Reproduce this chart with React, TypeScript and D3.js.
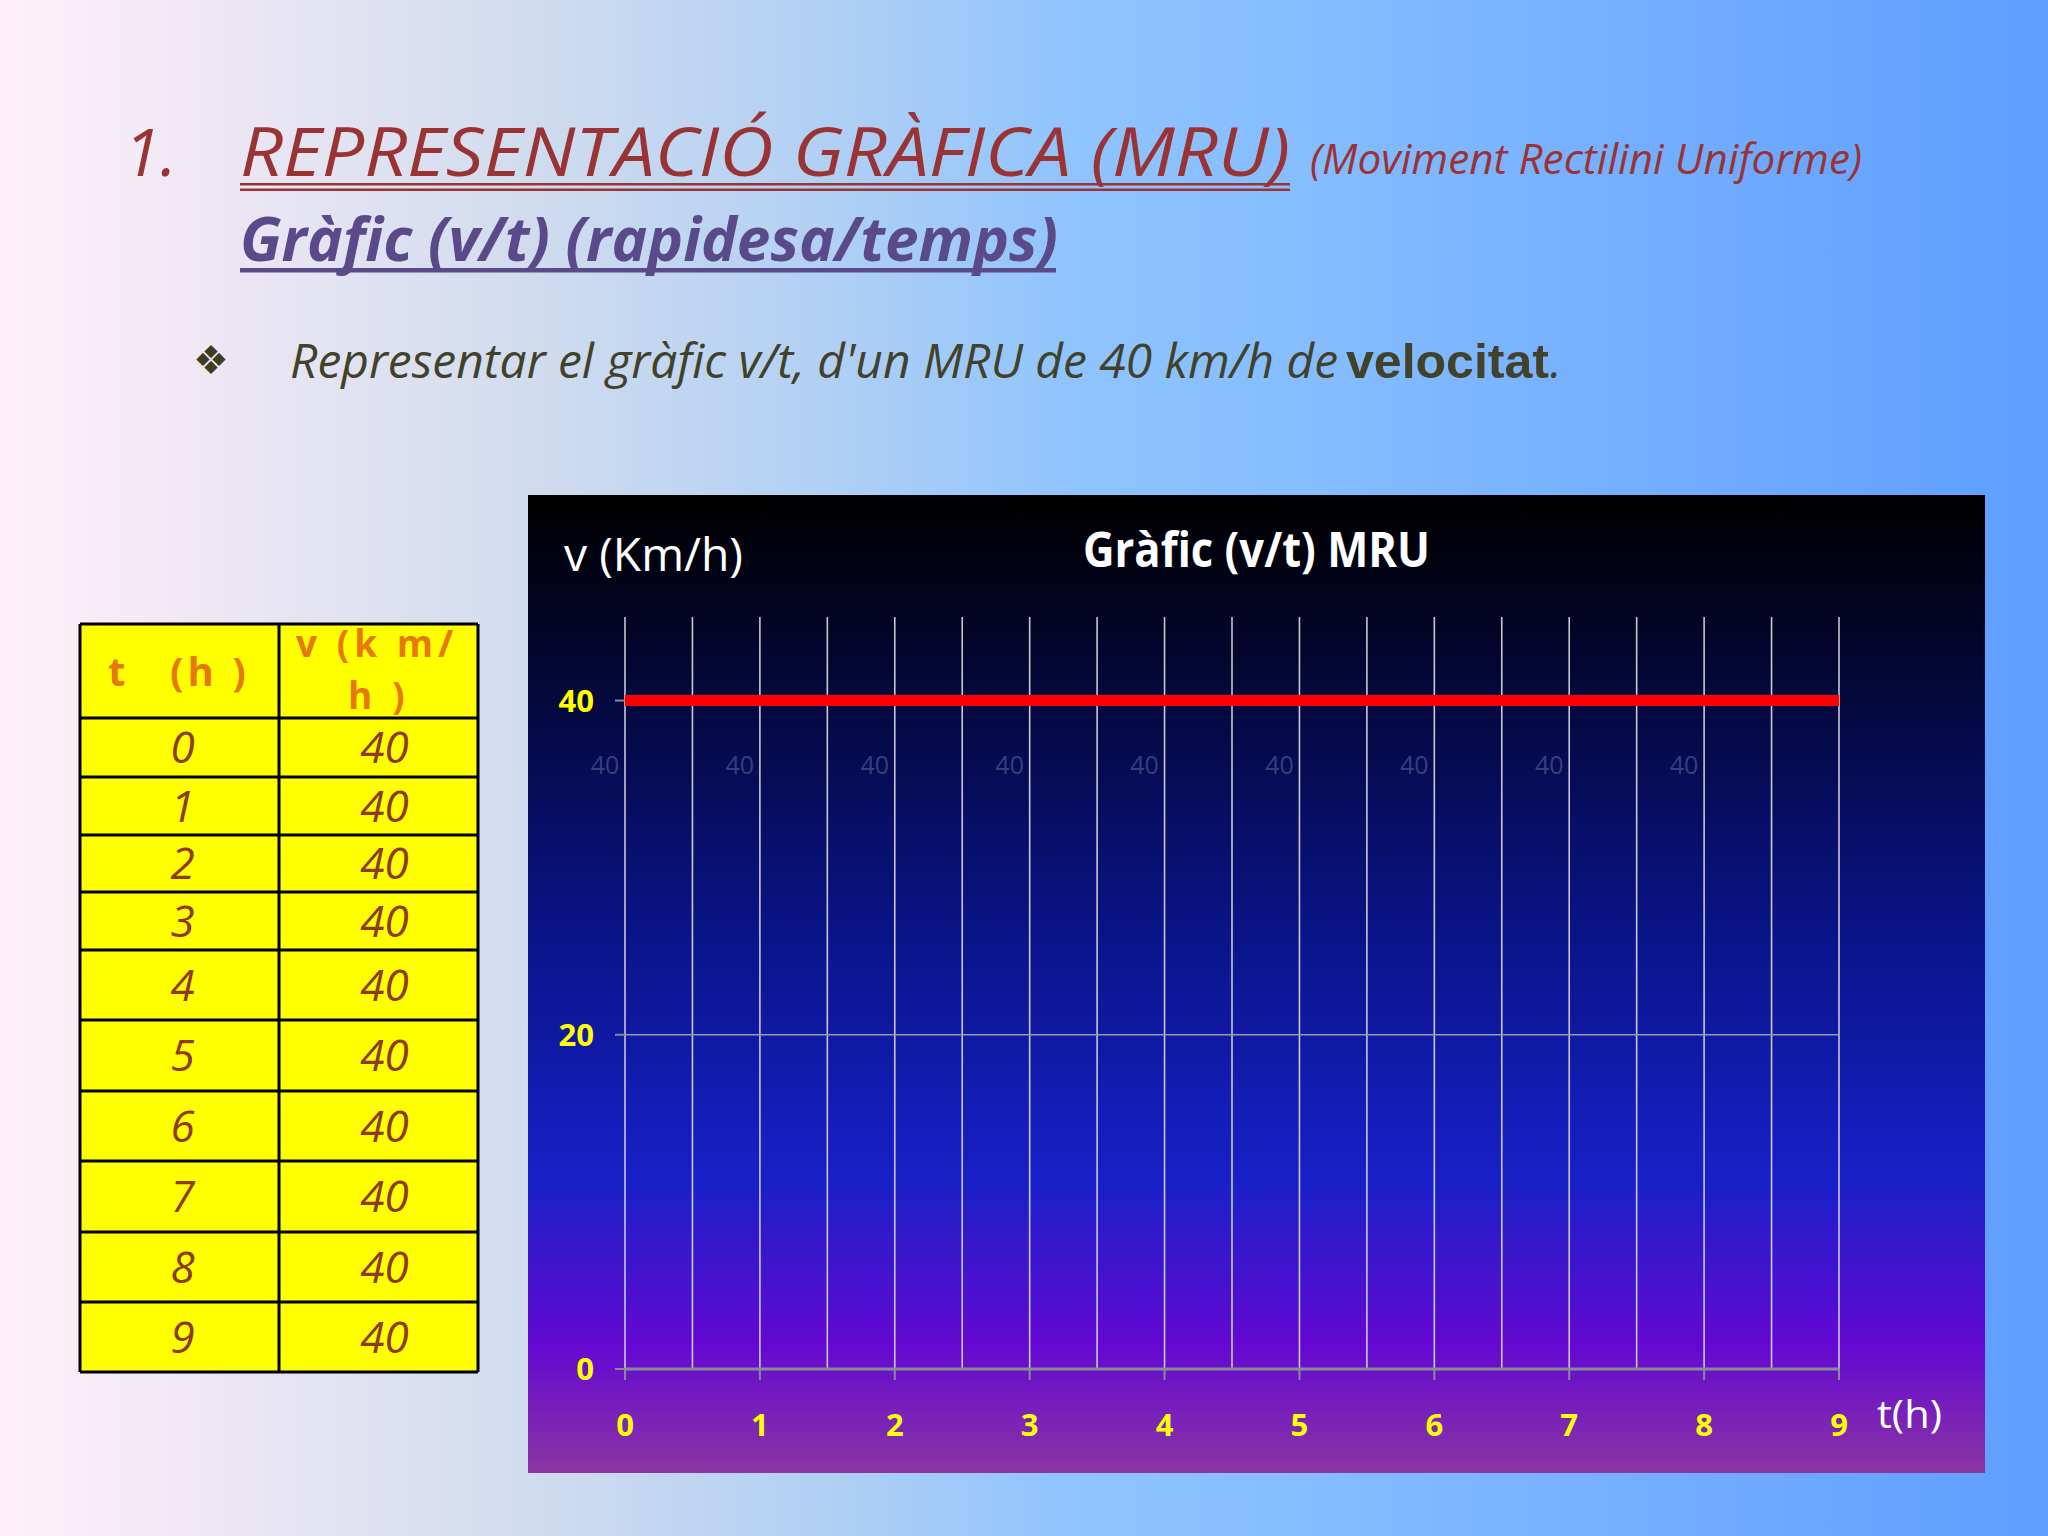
import React from 'react';
import * as d3 from 'd3';

// values
const times = [0, 1, 2, 3, 4, 5, 6, 7, 8, 9];
const speeds = [40, 40, 40, 40, 40, 40, 40, 40, 40, 40];
const yTicks = [0, 20, 40];
const labelTimes = [0, 1, 2, 3, 4, 5, 6, 7, 8];
const tableHeaderT = ['t', '(h )'];
const tableHeaderV = ['v (k m/', 'h )'];

const W = 2048,
  H = 1536;
const panel = { x: 528, y: 495, w: 1457, h: 978 };
const plot = { left: 625, right: 1839, top: 617, bottom: 1369 };
// table row edges (header, then 10 rows)
const rowEdges = [624, 718, 777, 835, 892, 950, 1020, 1091, 1161, 1232, 1302, 1372];
const colEdges = [80, 279, 478];

const sans = "'Open Sans', 'DejaVu Sans', sans-serif";

const App = () => {
  const x = d3.scaleLinear().domain([0, 9]).range([plot.left, plot.right]);
  const y = d3.scaleLinear().domain([0, 45]).range([plot.bottom, plot.top]);
  const gridX = d3.range(0, 9.01, 0.5);

  const line = d3
    .line<number>()
    .x((d, i) => x(times[i]))
    .y((d) => y(d));

  return (
    <div style={{ position: 'absolute', left: 0, top: 0 }}>
      <svg width={W} height={H} style={{ display: 'block' }}>
        <defs>
          <linearGradient id="bg" x1="0" y1="0" x2="1" y2="0">
            <stop offset="0" stopColor="#fff0f8" />
            <stop offset="0.12" stopColor="#ebe6f4" />
            <stop offset="0.26" stopColor="#d0dcee" />
            <stop offset="0.4" stopColor="#b2d0f4" />
            <stop offset="0.52" stopColor="#90c4fd" />
            <stop offset="0.65" stopColor="#84bcff" />
            <stop offset="0.8" stopColor="#74aeff" />
            <stop offset="1" stopColor="#5e9eff" />
          </linearGradient>
          <linearGradient id="panel" x1="0" y1="0" x2="0" y2="1">
            <stop offset="0" stopColor="#000000" />
            <stop offset="0.1" stopColor="#02031a" />
            <stop offset="0.25" stopColor="#050a4a" />
            <stop offset="0.45" stopColor="#0a1488" />
            <stop offset="0.7" stopColor="#1820c8" />
            <stop offset="0.87" stopColor="#6408d2" />
            <stop offset="1" stopColor="#8a36a4" />
          </linearGradient>
        </defs>

        <rect x={0} y={0} width={W} height={H} fill="url(#bg)" />

        {/* headings */}
        <text x={124} y={176} fontFamily={sans} fontStyle="italic" fontSize={66} fill="#9a3434">
          1.
        </text>
        <text
          x={240}
          y={176}
          fontFamily={sans}
          fontStyle="italic"
          fontSize={68}
          fill="#9a3434"
          textLength={1050}
          lengthAdjust="spacingAndGlyphs"
        >
          REPRESENTACIÓ GRÀFICA (MRU)
        </text>
        <rect x={240} y={183} width={1050} height={2.5} fill="#9a3434" />
        <rect x={240} y={188.5} width={1050} height={2.5} fill="#9a3434" />
        <text
          x={1310}
          y={174}
          fontFamily={sans}
          fontStyle="italic"
          fontSize={42}
          fill="#9a3434"
          textLength={552}
          lengthAdjust="spacingAndGlyphs"
        >
          (Moviment Rectilini Uniforme)
        </text>
        <text
          x={240}
          y={261}
          fontFamily={sans}
          fontStyle="italic"
          fontWeight="bold"
          fontSize={61}
          fill="#5a4a8a"
          textLength={818}
          lengthAdjust="spacingAndGlyphs"
        >
          Gràfic (v/t) (rapidesa/temps)
        </text>
        <rect x={240} y={268} width={816} height={4.5} fill="#5a4a8a" />

        <text x={193} y={374} fontFamily="'DejaVu Sans', sans-serif" fontSize={40} fill="#3c3c22">
          ❖
        </text>
        <text
          x={290}
          y={378}
          fontFamily={sans}
          fontStyle="italic"
          fontSize={47}
          fill="#42422a"
          textLength={1048}
          lengthAdjust="spacingAndGlyphs"
        >
          Representar el gràfic v/t, d'un MRU de 40 km/h de
        </text>
        <text
          x={1346}
          y={378}
          fontFamily="'Liberation Sans', Arial, sans-serif"
          fontWeight="bold"
          fontSize={49}
          fill="#42422a"
          textLength={203}
          lengthAdjust="spacingAndGlyphs"
        >
          velocitat
        </text>
        <text x={1550} y={378} fontFamily={sans} fontStyle="italic" fontSize={46} fill="#42422a">
          .
        </text>

        {/* table */}
        <rect
          x={colEdges[0]}
          y={rowEdges[0]}
          width={colEdges[2] - colEdges[0]}
          height={rowEdges[rowEdges.length - 1] - rowEdges[0]}
          fill="#ffff00"
        />
        {rowEdges.map((ry, i) => (
          <line key={'r' + i} x1={colEdges[0]} x2={colEdges[2]} y1={ry} y2={ry} stroke="#000" strokeWidth={3} />
        ))}
        {colEdges.map((cx, i) => (
          <line
            key={'c' + i}
            x1={cx}
            x2={cx}
            y1={rowEdges[0]}
            y2={rowEdges[rowEdges.length - 1]}
            stroke="#000"
            strokeWidth={3}
          />
        ))}
        {tableHeaderT.map((s, i) => (
          <text
            key={s}
            x={i === 0 ? 108 : 170}
            y={686}
            fontFamily={sans}
            fontWeight="bold"
            fontSize={40}
            fill="#e6780e"
            letterSpacing={i === 0 ? 0 : 4}
            style={{ whiteSpace: 'pre' }}
          >
            {s}
          </text>
        ))}
        {tableHeaderV.map((s, i) => (
          <text
            key={s}
            x={i === 0 ? 296 : 348}
            y={657 + i * 52}
            fontFamily={sans}
            fontWeight="bold"
            fontSize={37}
            fill="#e6780e"
            letterSpacing={5}
            style={{ whiteSpace: 'pre' }}
          >
            {s}
          </text>
        ))}
        {times.map((t, i) => {
          const cy = (rowEdges[i + 1] + rowEdges[i + 2]) / 2;
          return (
            <g key={'row' + t} fontFamily={sans} fontStyle="italic" fontSize={44} fill="#8e3a1c" textAnchor="middle">
              <text x={(colEdges[0] + colEdges[1]) / 2 + 3} y={cy} dy="0.36em">
                {t}
              </text>
              <text x={(colEdges[1] + colEdges[2]) / 2 + 6} y={cy} dy="0.36em">
                {speeds[i]}
              </text>
            </g>
          );
        })}

        {/* chart panel */}
        <rect x={panel.x} y={panel.y} width={panel.w} height={panel.h} fill="url(#panel)" />
        <text
          x={564}
          y={571}
          fontFamily={sans}
          fontSize={45}
          fill="#ffffff"
          textLength={179}
          lengthAdjust="spacingAndGlyphs"
        >
          v (Km/h)
        </text>
        <text
          x={1083}
          y={567}
          fontFamily={sans}
          fontWeight="bold"
          fontSize={49}
          fill="#ffffff"
          textLength={347}
          lengthAdjust="spacingAndGlyphs"
        >
          Gràfic (v/t) MRU
        </text>

        {/* vertical gridlines */}
        {gridX.map((g) => (
          <line key={'gx' + g} x1={x(g)} x2={x(g)} y1={y(45)} y2={y(0)} stroke="#c8c8d0" strokeWidth={1.6} />
        ))}
        {/* horizontal gridlines */}
        {yTicks
          .filter((v) => v > 0)
          .map((v) => (
            <line key={'gy' + v} x1={x(0)} x2={x(9)} y1={y(v)} y2={y(v)} stroke="#9a9aa8" strokeWidth={1.6} />
          ))}
        {/* y ticks */}
        {yTicks.map((v) => (
          <g key={'yt' + v}>
            <line x1={x(0) - 10} x2={x(0)} y1={y(v)} y2={y(v)} stroke="#8a8a96" strokeWidth={2} />
            <text
              x={594}
              y={y(v)}
              dy="0.36em"
              textAnchor="end"
              fontFamily={sans}
              fontWeight="bold"
              fontSize={31}
              fill="#ffff00"
            >
              {v}
            </text>
          </g>
        ))}
        {/* x axis */}
        <line x1={x(0)} x2={x(9)} y1={y(0)} y2={y(0)} stroke="#8a8a96" strokeWidth={3} />
        {times.map((t) => (
          <g key={'xt' + t}>
            <line x1={x(t)} x2={x(t)} y1={y(0)} y2={y(0) + 11} stroke="#8a8a96" strokeWidth={2} />
            <text
              x={x(t)}
              y={1436}
              textAnchor="middle"
              fontFamily={sans}
              fontWeight="bold"
              fontSize={31}
              fill="#ffff00"
            >
              {t}
            </text>
          </g>
        ))}
        <text x={1877} y={1428} fontFamily={sans} fontSize={39} fill="#ffffff" textLength={65} lengthAdjust="spacingAndGlyphs">
          t(h)
        </text>

        {/* faint data labels */}
        {labelTimes.map((t) => (
          <text
            key={'dl' + t}
            x={x(t) - 20}
            y={y(speeds[t]) + 64}
            dy="0.36em"
            textAnchor="middle"
            fontFamily={sans}
            fontSize={25}
            fill="#4a5690"
            opacity={0.7}
          >
            {speeds[t]}
          </text>
        ))}

        {/* series */}
        <path d={line(speeds) || ''} fill="none" stroke="#ff0000" strokeWidth={11} />
      </svg>
    </div>
  );
};

export default App;
